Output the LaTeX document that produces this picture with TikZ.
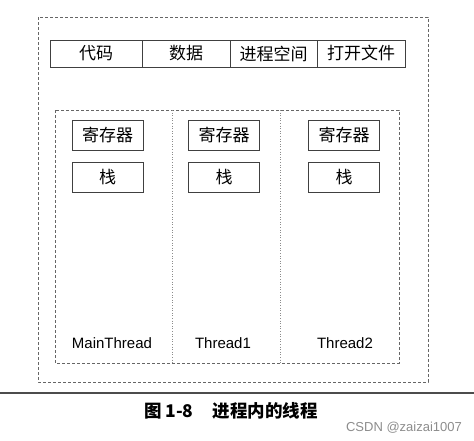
\documentclass[tikz,border=0pt]{standalone}
\usepackage{fontspec}
\setmainfont{Liberation Sans}
\newfontfamily\cjk{Noto Sans CJK SC}
\usetikzlibrary{positioning}
\tikzset{
  part/.style={draw=black!75, line width=0.6pt, minimum height=27pt, inner sep=0pt, font=\cjk\fontsize{17}{17}\selectfont},
  slot/.style={draw=black!75, line width=0.6pt, minimum width=71pt, minimum height=30pt, inner sep=0pt, font=\cjk\fontsize{17}{17}\selectfont},
  frame/.style={draw=black!60, line width=0.6pt, densely dashed},
  split/.style={draw=black!45, line width=0.6pt, dotted},
  tname/.style={font=\fontsize{15}{15}\selectfont}
}
\begin{document}
\begin{tikzpicture}[x=1pt,y=-1pt]
        \useasboundingbox (0,0) rectangle (474,440);
        % Process frame
        \coordinate (pa) at (38,17);
        \coordinate (pb) at (428,382);
        \draw[frame] (pa) rectangle (pb);
        % Process resources
        \node[part,minimum width=92pt] (code) at (96,53.5) {代码};
        \node[part,minimum width=88pt] (data) at (186,53.5) {数据};
        \node[part,minimum width=87pt] (space) at (273.5,53.5) {进程空间};
        \node[part,minimum width=88pt] (files) at (361,53.5) {打开文件};
        % Thread area
        \coordinate (ta) at (55,110);
        \coordinate (tb) at (399,363);
        \draw[frame] (ta) rectangle (tb);
        \coordinate (s1a) at (172,110);
        \coordinate (s1b) at (172,363);
        \coordinate (s2a) at (280,110);
        \coordinate (s2b) at (280,363);
        \draw[split] (s1a) -- (s1b);
        \draw[split] (s2a) -- (s2b);
        % Registers and stacks
        \node[slot] (reg0) at (107.5,135) {寄存器};
        \node[slot] (reg1) at (224,135) {寄存器};
        \node[slot] (reg2) at (344,135) {寄存器};
        \node[slot] (stk0) at (107.5,177) {栈};
        \node[slot] (stk1) at (224,177) {栈};
        \node[slot] (stk2) at (344,177) {栈};
        % Thread names
        \node[tname] (main) at (112,343) {MainThread};
        \node[tname] (t1) at (223,343) {Thread1};
        \node[tname] (t2) at (345,343) {Thread2};
        % Caption
        \coordinate (ra) at (0,393);
        \coordinate (rb) at (474,393);
        \draw[black!70, line width=1.4pt] (ra) -- (rb);
        \node[font=\cjk\bfseries\fontsize{17.5}{17.5}\selectfont] (cap) at (231,411) {图 1-8\hspace{1.1em}进程内的线程};
        \node[black!45, font=\fontsize{13}{13}\selectfont] (mark) at (404,428) {CSDN @zaizai1007};
    \end{tikzpicture}
\end{document}
